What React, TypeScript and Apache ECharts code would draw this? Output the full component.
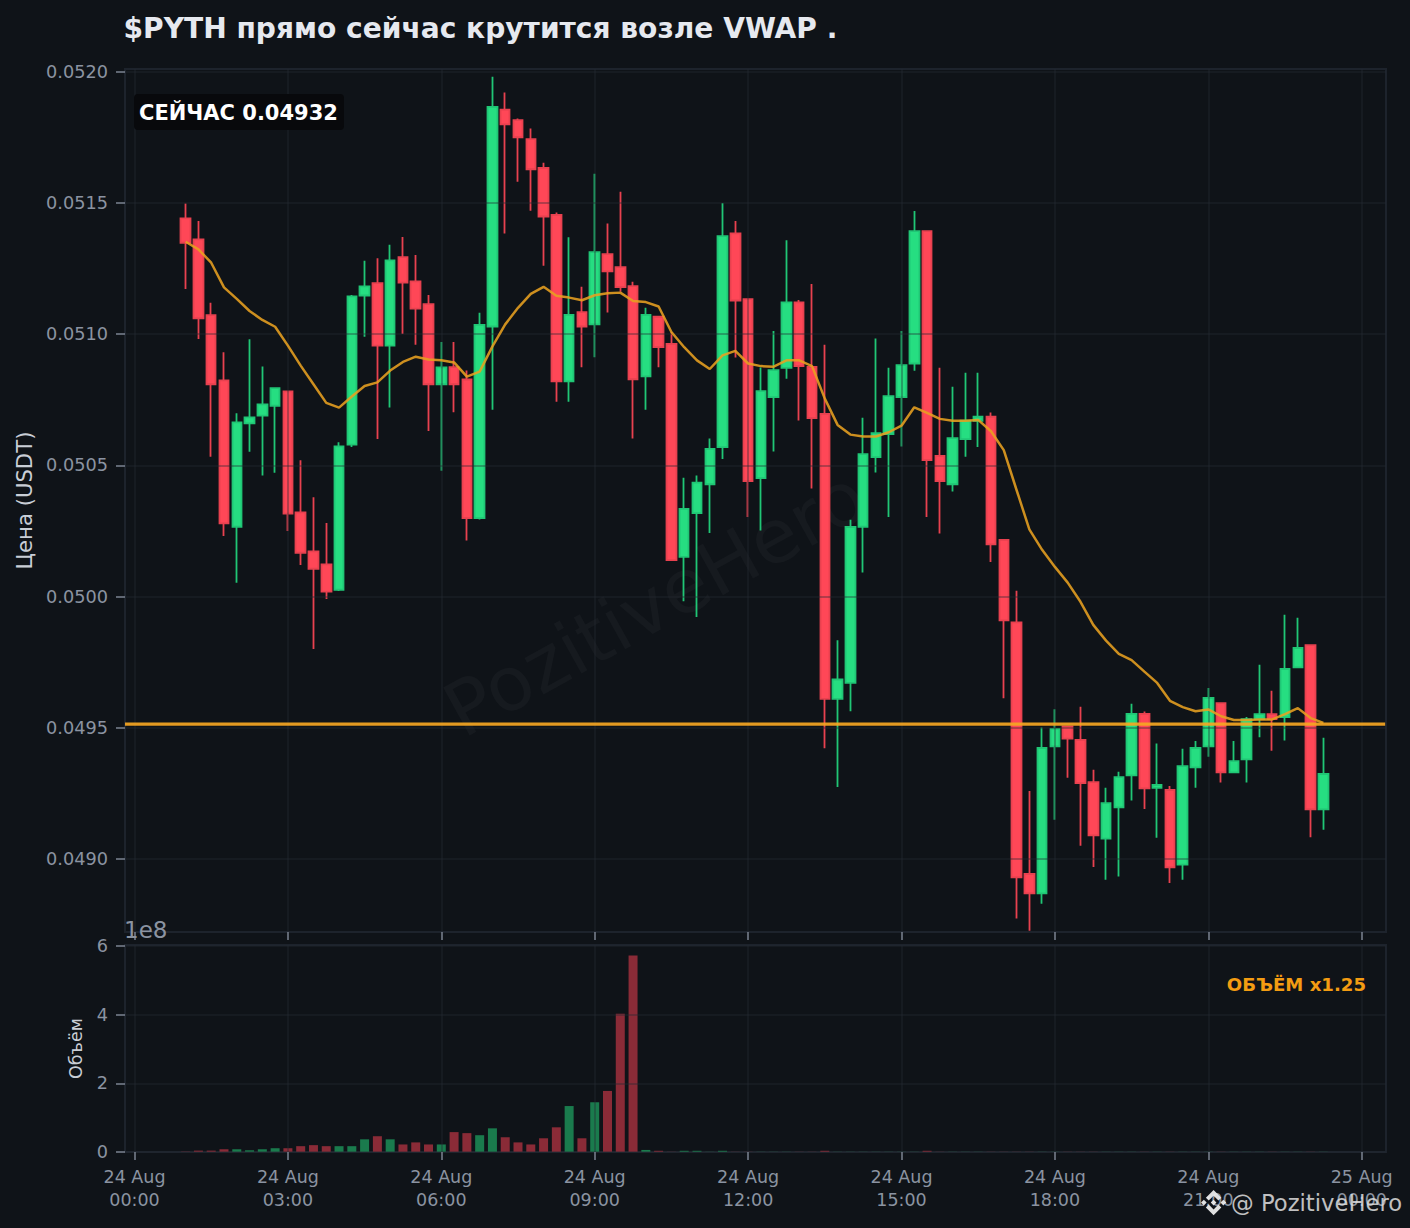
import React, { useEffect, useRef } from "react";
import * as echarts from "echarts";

const titleText = "$PYTH прямо сейчас крутится возле VWAP .";
const QUARTER = 15 * 60 * 1000;
const T0 = Date.UTC(2025, 7, 24, 0, 0, 0);
const firstCandleSlot = 4;
const PRICE_UNIT = 1e-5; // the arrays below are in units of 0.00001 USDT

const opens = [
  5144.1, 5136.1, 5107.2, 5082.4, 5026.6, 5066.0, 5068.9, 5072.7, 5078.2, 5032.1,
  5017.2, 5012.3, 5002.6, 5057.9, 5114.7, 5119.4, 5095.6, 5129.3, 5120.1, 5111.4,
  5080.9, 5087.4, 5082.7, 5029.9, 5102.9, 5185.5, 5181.5, 5174.3, 5163.3, 5145.4,
  5082.0, 5108.4, 5103.7, 5130.5, 5125.5, 5118.3, 5083.9, 5106.6, 5096.3, 5015.1,
  5031.8, 5042.8, 5056.9, 5138.4, 5113.3, 5045.1, 5076.0, 5087.1, 5112.1, 5087.5,
  5069.6, 4961.0, 4967.1, 5026.6, 5053.1, 5061.9, 5076.0, 5088.8, 5139.2, 5053.6,
  5042.8, 5060.0, 5066.9, 5068.5, 5021.6, 4990.2, 4894.3, 4886.9, 4942.9, 4950.5,
  4945.4, 4929.3, 4907.8, 4919.7, 4931.9, 4955.3, 4927.1, 4926.3, 4897.9, 4934.9,
  4942.9, 4959.4, 4933.0, 4938.0, 4953.3, 4955.2, 4954.1, 4973.0, 4981.5, 4918.9,
];
const closes = [
  5134.8, 5106.0, 5080.9, 5027.9, 5066.4, 5068.3, 5073.2, 5079.4, 5031.6, 5016.7,
  5010.6, 5001.9, 5057.2, 5114.4, 5118.2, 5095.6, 5128.1, 5119.6, 5109.7, 5080.9,
  5087.3, 5080.9, 5029.9, 5103.5, 5186.6, 5179.9, 5175.0, 5162.8, 5144.8, 5082.0,
  5107.3, 5102.9, 5131.2, 5123.9, 5117.9, 5082.8, 5107.3, 5095.0, 5013.9, 5033.4,
  5043.4, 5056.3, 5137.3, 5112.8, 5044.0, 5078.3, 5086.3, 5112.1, 5087.8, 5068.0,
  4961.0, 4968.4, 5026.5, 5054.3, 5062.3, 5076.4, 5088.2, 5139.2, 5052.0, 5044.0,
  5060.4, 5067.0, 5068.5, 5019.9, 4990.9, 4893.0, 4886.9, 4942.3, 4949.6, 4945.9,
  4928.9, 4909.0, 4921.3, 4931.2, 4955.3, 4926.9, 4928.2, 4896.8, 4935.4, 4942.3,
  4961.4, 4933.0, 4937.3, 4953.3, 4955.2, 4953.3, 4972.4, 4980.4, 4918.9, 4932.4,
];
const lows = [
  5117.2, 5098.1, 5053.3, 5023.1, 5005.3, 5055.2, 5046.1, 5047.2, 5025.0, 5012.0,
  4980.0, 4999.1, 5002.1, 5057.0, 5099.0, 5060.0, 5072.0, 5100.0, 5095.9, 5063.1,
  5047.9, 5070.2, 5021.4, 5029.4, 5071.2, 5138.3, 5158.0, 5147.0, 5126.0, 5074.2,
  5074.2, 5087.4, 5091.2, 5108.2, 5116.1, 5060.2, 5071.2, 5087.4, 5013.9, 4998.2,
  4992.2, 5024.2, 5052.4, 5091.1, 5030.3, 5025.2, 5055.3, 5083.0, 5067.1, 5041.2,
  4942.2, 4927.4, 4956.3, 5009.2, 5047.3, 5030.3, 5057.2, 5086.0, 5030.3, 5024.0,
  5040.0, 5053.3, 5057.0, 5013.2, 4961.3, 4877.3, 4872.7, 4883.0, 4915.0, 4931.0,
  4905.1, 4897.0, 4892.1, 4893.3, 4922.3, 4919.1, 4908.1, 4890.9, 4892.1, 4927.2,
  4939.0, 4929.2, 4933.0, 4929.2, 4946.4, 4941.3, 4945.2, 4973.0, 4908.3, 4911.2,
];
const highs = [
  5149.8, 5143.1, 5111.9, 5093.1, 5069.8, 5098.0, 5087.7, 5079.4, 5078.2, 5051.9,
  5037.8, 5028.0, 5058.8, 5114.9, 5127.9, 5128.9, 5134.0, 5137.0, 5130.1, 5114.9,
  5097.0, 5097.0, 5086.1, 5108.1, 5198.0, 5192.0, 5182.1, 5178.3, 5165.3, 5146.3,
  5136.9, 5118.0, 5161.1, 5142.1, 5154.2, 5119.9, 5110.0, 5106.6, 5100.8, 5045.3,
  5046.1, 5060.2, 5149.9, 5143.1, 5113.3, 5087.3, 5101.2, 5135.8, 5113.0, 5119.1,
  5095.9, 4983.4, 5029.3, 5068.1, 5098.3, 5087.2, 5101.2, 5146.9, 5139.2, 5087.2,
  5079.9, 5085.3, 5085.3, 5070.1, 5021.6, 5002.2, 4925.9, 4950.1, 4957.1, 4950.9,
  4958.0, 4934.0, 4927.2, 4933.3, 4959.2, 4956.2, 4944.0, 4927.8, 4942.0, 4945.0,
  4965.2, 4959.4, 4945.0, 4954.1, 4974.0, 4964.1, 4993.1, 4991.9, 4981.5, 4946.2,
];
const vwap = [
  5135.2, 5132.3, 5127.2, 5117.8, 5113.4, 5108.8, 5105.4, 5102.8, 5095.6, 5088.0,
  5080.9, 5073.8, 5072.0, 5076.2, 5080.2, 5081.6, 5086.1, 5089.4, 5091.4, 5090.3,
  5090.0, 5089.2, 5083.8, 5085.7, 5095.3, 5103.7, 5110.0, 5115.3, 5118.0, 5114.6,
  5113.9, 5112.9, 5114.8, 5115.6, 5115.8, 5112.6, 5112.2, 5110.5, 5100.8, 5095.0,
  5090.0, 5086.7, 5091.9, 5093.6, 5088.8, 5087.8, 5087.6, 5090.0, 5090.0, 5087.8,
  5075.4, 5065.4, 5061.7, 5061.0, 5061.0, 5062.6, 5065.1, 5072.1, 5070.0, 5067.7,
  5067.0, 5067.0, 5067.3, 5063.0, 5055.8, 5040.6, 5025.6, 5017.8, 5011.3, 5005.3,
  4998.0, 4989.2, 4983.2, 4978.2, 4975.8, 4971.4, 4967.1, 4960.3, 4957.9, 4956.3,
  4957.0, 4954.4, 4953.0, 4953.0, 4953.2, 4953.2, 4955.2, 4957.5, 4953.7, 4951.9,
];
const volumes = [
  0.01, 0.04, 0.04, 0.08, 0.08, 0.05, 0.08, 0.11, 0.11, 0.17,
  0.2, 0.17, 0.17, 0.17, 0.37, 0.46, 0.37, 0.22, 0.28, 0.22,
  0.22, 0.58, 0.55, 0.49, 0.69, 0.43, 0.28, 0.22, 0.4, 0.72,
  1.34, 0.4, 1.45, 1.78, 4.03, 5.73, 0.06, 0.035, 0.005, 0.035,
  0.035, 0.005, 0.035, 0.005, 0.005, 0.005, 0.005, 0.005, 0.005, 0.005,
  0.035, 0.005, 0.005, 0.005, 0.005, 0.005, 0.005, 0.005, 0.035, 0.005,
  0.005, 0.005, 0.005, 0.005, 0.005, 0.005, 0.005, 0.005, 0.005, 0.005,
  0.005, 0.005, 0.005, 0.005, 0.005, 0.005, 0.005, 0.005, 0.005, 0.005,
  0.005, 0.005, 0.005, 0.005, 0.005, 0.005, 0.005, 0.005, 0.005, 0.005,
];
const referenceLevel = 0.049514;
const priceTicks = [0.049, 0.0495, 0.05, 0.0505, 0.051, 0.0515, 0.052];
const volumeTicks = [0, 2, 4, 6];
const timeTickLabels = [
  "24 Aug\n00:00", "24 Aug\n03:00", "24 Aug\n06:00", "24 Aug\n09:00", "24 Aug\n12:00",
  "24 Aug\n15:00", "24 Aug\n18:00", "24 Aug\n21:00", "25 Aug\n00:00",
];
const timeTicks = timeTickLabels.map((_, i) => T0 + i * 3 * 3600 * 1000);

const BG = "#0f1318";
const GRID = "rgba(38,43,50,0.48)";
const FRAME = "#1d232c";
const TICK = "#7d8592";
const LABEL = "#8b93a1";
const UP = "#26de81";
const DOWN = "#ff4757";
const FONT = "DejaVu Sans";

const XMIN = T0 - 11.15 * 60000;
const XMAX = T0 + 1468.5 * 60000;

const slotTime = (i: number) => T0 + (firstCandleSlot + i) * QUARTER;
const price = (v: number) => v * PRICE_UNIT;

const LOGO =
  "M16.624 13.9202l2.7175 2.7154-7.353 7.353-7.353-7.352 2.7175-2.7164 4.6355 4.6595 4.6356-4.6595zm4.6366-4.6366L24 12l-2.7154 2.7164L18.5682 12l2.6924-2.7164zm-9.272.001l2.7163 2.6914-2.7164 2.7174v-.001L9.2721 12l2.7164-2.7154zm-9.2722-.001L5.4088 12l-2.6914 2.692L0 12l2.7164-2.7164zM11.9885.0115l7.353 7.329-2.7174 2.7154-4.6356-4.6356-4.6355 4.6595-2.7174-2.7154 7.353-7.353z";
echarts.graphic.registerShape("logo", echarts.graphic.extendPath(LOGO, {}));

export default function App() {
  const ref = useRef<HTMLDivElement>(null);
  useEffect(() => {
    document.body.style.margin = "0";
    document.body.style.background = BG;
    const chart = echarts.init(ref.current!, null, { renderer: "svg" });
    const xCommon = {
      type: "value",
      min: XMIN,
      max: XMAX,
      axisLine: { show: false },
      axisTick: { show: true, length: 8, customValues: timeTicks, lineStyle: { color: TICK, width: 1.5 } },
      splitLine: { show: true, lineStyle: { color: GRID, width: 1.5 } },
      z: 3,
    };
    chart.setOption({
      animation: false,
      backgroundColor: BG,
      textStyle: { fontFamily: FONT },
      title: {
        text: titleText,
        left: 118.5,
        top: 9,
        textStyle: { color: "#e6e9ef", fontSize: 28.1, fontWeight: "bold", fontFamily: FONT },
      },
      grid: [
        { left: 125, right: 24, top: 69, height: 863, show: true, borderColor: FRAME, borderWidth: 2, backgroundColor: "transparent" },
        { left: 125, right: 24, top: 945, height: 207, show: true, borderColor: FRAME, borderWidth: 2, backgroundColor: "transparent" },
      ],
      xAxis: [
        { ...xCommon, gridIndex: 0, axisLabel: { show: false } },
        {
          ...xCommon,
          gridIndex: 1,
          axisLabel: {
            show: true,
            customValues: timeTicks,
            color: LABEL,
            fontSize: 17.5,
            lineHeight: 22.5,
            margin: 14,
            hideOverlap: false,
            showMinLabel: true,
            showMaxLabel: true,
            fontFamily: FONT,
            formatter: (v: number) => timeTickLabels[timeTicks.indexOf(v)] ?? "",
          },
        },
      ],
      yAxis: [
        {
          gridIndex: 0,
          type: "value",
          min: 0.048722,
          max: 0.05201,
          name: "Цена (USDT)",
          nameLocation: "middle",
          nameGap: 90,
          nameTextStyle: { color: "#c9ced6", fontSize: 21.2, fontFamily: FONT },
          axisLine: { show: false },
          axisTick: { show: true, length: 9, customValues: priceTicks, lineStyle: { color: TICK, width: 1.5 } },
          axisLabel: {
            customValues: priceTicks,
            color: LABEL,
            fontSize: 17.7,
            margin: 17,
            fontFamily: FONT,
            formatter: (v: number) => v.toFixed(4),
          },
          splitLine: { show: true, lineStyle: { color: GRID, width: 1.5 } },
          z: 3,
        },
        {
          gridIndex: 1,
          type: "value",
          min: 0,
          max: 6.035,
          name: "Объём",
          nameLocation: "middle",
          nameGap: 40,
          nameTextStyle: { color: "#c9ced6", fontSize: 17.5, fontFamily: FONT },
          axisLine: { show: false },
          axisTick: { show: true, length: 9, customValues: volumeTicks, lineStyle: { color: TICK, width: 1.5 } },
          axisLabel: {
            customValues: volumeTicks,
            color: LABEL,
            fontSize: 17.7,
            margin: 17,
            fontFamily: FONT,
            formatter: (v: number) => String(v),
          },
          splitLine: { show: true, lineStyle: { color: GRID, width: 1.5 } },
          z: 3,
        },
      ],
      series: [
        {
          type: "candlestick",
          xAxisIndex: 0,
          yAxisIndex: 0,
          barWidth: 10,
          z: 2,
          itemStyle: {
            color: UP,
            color0: DOWN,
            borderColor: "#20c675",
            borderColor0: "#e8414f",
            borderWidth: 1.8,
          },
          data: opens.map((o, i) => [slotTime(i), price(o), price(closes[i]), price(lows[i]), price(highs[i])]),
        },
        {
          type: "line",
          xAxisIndex: 0,
          yAxisIndex: 0,
          symbol: "none",
          z: 4,
          silent: true,
          lineStyle: { color: "#e8a020", width: 2.5, opacity: 0.88 },
          data: vwap.map((v, i) => [slotTime(i), price(v)]),
        },
        {
          type: "line",
          xAxisIndex: 0,
          yAxisIndex: 0,
          symbol: "none",
          z: 5,
          silent: true,
          lineStyle: { color: "#f5a623", width: 3.4, opacity: 0.92 },
          data: [
            [XMIN, referenceLevel],
            [XMAX - 60000, referenceLevel],
          ],
        },
        {
          type: "bar",
          xAxisIndex: 1,
          yAxisIndex: 1,
          barWidth: 9,
          z: 2,
          data: volumes.map((v, i) => ({
            value: [slotTime(i), v],
            itemStyle: { color: closes[i] >= opens[i] ? "#1a7b4d" : "#8a2b37" },
          })),
        },
      ],
      graphic: [
        {
          type: "text",
          z: 1,
          x: 655,
          y: 603,
          rotation: (29 * Math.PI) / 180,
          style: {
            text: "PozitiveHero",
            fill: "rgba(255,255,255,0.03)",
            fontSize: 75,
            fontFamily: FONT,
            align: "center",
            verticalAlign: "middle",
          },
        },
        { type: "rect", z: 20, shape: { x: 134, y: 94, width: 210, height: 36, r: 4 }, style: { fill: "#08090c" } },
        {
          type: "text",
          z: 21,
          x: 139,
          y: 113,
          style: {
            text: "СЕЙЧАС 0.04932",
            fill: "#ffffff",
            fontSize: 21,
            fontWeight: "bold",
            fontFamily: FONT,
            verticalAlign: "middle",
          },
        },
        {
          type: "text",
          z: 21,
          x: 1366,
          y: 984,
          style: {
            text: "ОБЪЁМ x1.25",
            fill: "#f39c12",
            fontSize: 18.1,
            fontWeight: "bold",
            fontFamily: FONT,
            align: "right",
            verticalAlign: "middle",
          },
        },
        {
          type: "text",
          z: 21,
          x: 124,
          y: 930,
          style: { text: "1e8", fill: LABEL, fontSize: 23, fontFamily: FONT, verticalAlign: "middle" },
        },
        { type: "logo", z: 30, x: 1201, y: 1190, scaleX: 1.05, scaleY: 1.05, style: { fill: "rgba(235,235,235,0.95)" } },
        {
          type: "text",
          z: 30,
          x: 1231,
          y: 1203,
          style: {
            text: "@ PozitiveHero",
            fill: "rgba(225,225,225,0.85)",
            fontSize: 22.7,
            fontFamily: FONT,
            verticalAlign: "middle",
          },
        },
      ],
    });
    return () => chart.dispose();
  }, []);
  return <div ref={ref} style={{ position: "absolute", left: 0, top: 0, width: 1410, height: 1228 }} />;
}
